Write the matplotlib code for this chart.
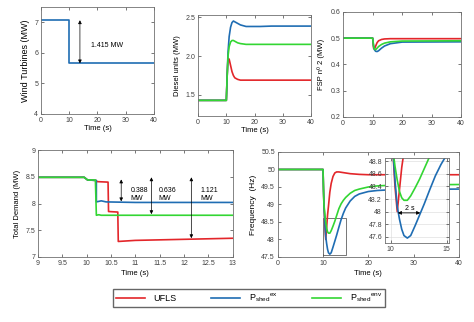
import numpy as np
import matplotlib.pyplot as plt
from matplotlib.patches import Rectangle

plt.rcParams['font.family'] = ['Liberation Sans', 'DejaVu Sans']
plt.rcParams['mathtext.fontset'] = 'custom'
plt.rcParams['mathtext.rm'] = 'Liberation Sans'

RED = '#e3262a'
BLUE = '#1f6db3'
GREEN = '#33d633'

# wind turbines
t_wind = [0, 10, 10, 40]
p_wind = [7.07, 7.07, 5.655, 5.655]

# diesel units
t_dsl = [0, 10, 10.3, 10.6, 11, 11.5, 12, 12.5, 13, 14, 15, 17, 19, 22, 26, 30, 35, 40]
dsl_ufls = [1.43, 1.43, 1.75, 1.97, 1.96, 1.88, 1.80, 1.75, 1.72, 1.70, 1.69, 1.69, 1.69, 1.69, 1.69, 1.69, 1.69, 1.69]
dsl_ex = [1.43, 1.43, 1.75, 2.05, 2.25, 2.37, 2.43, 2.45, 2.44, 2.42, 2.40, 2.38, 2.38, 2.38, 2.385, 2.385, 2.385, 2.385]
dsl_env = [1.43, 1.43, 1.75, 2.0, 2.12, 2.18, 2.2, 2.2, 2.19, 2.17, 2.16, 2.15, 2.15, 2.15, 2.15, 2.15, 2.15, 2.15]

# FSP n2
t_fsp = [0, 10, 10.3, 10.6, 11, 11.5, 12, 13, 14, 16, 20, 40]
fsp_ufls = [0.5, 0.5, 0.462, 0.458, 0.47, 0.483, 0.49, 0.495, 0.497, 0.498, 0.498, 0.498]
fsp_ex = [0.5, 0.5, 0.47, 0.456, 0.45, 0.449, 0.452, 0.462, 0.47, 0.479, 0.485, 0.486]
fsp_env = [0.5, 0.5, 0.47, 0.458, 0.456, 0.462, 0.468, 0.476, 0.481, 0.486, 0.489, 0.49]

# total demand
t_dem_ufls = [9, 9.95, 10.02, 10.06, 10.2, 10.2, 10.44, 10.45, 10.64, 10.65, 11, 13]
dem_ufls = [8.49, 8.49, 8.44, 8.44, 8.43, 8.41, 8.40, 7.85, 7.84, 7.29, 7.31, 7.35]
t_dem_ex = [9, 9.95, 10.02, 10.06, 10.2, 10.2, 10.3, 10.4, 11, 13]
dem_ex = [8.49, 8.49, 8.44, 8.44, 8.43, 8.03, 8.05, 8.03, 8.02, 8.02]
t_dem_env = [9, 9.95, 10.02, 10.06, 10.18, 10.2, 10.25, 10.3, 10.5, 13]
dem_env = [8.49, 8.49, 8.44, 8.44, 8.44, 7.78, 7.79, 7.78, 7.78, 7.78]

# frequency
t_f = [0, 10, 10.1, 10.2, 10.4, 10.6, 10.8, 11.0, 11.2, 11.5, 11.8, 12.2, 12.6, 13.0, 13.5,
       14.0, 14.5, 15, 16, 17, 18, 20, 22, 25, 30, 40]
f_ufls = [50, 50, 49.45, 49.0, 48.4, 48.0, 48.35, 48.7, 48.95, 49.35, 49.6, 49.8, 49.9, 49.93, 49.93,
          49.92, 49.91, 49.9, 49.88, 49.87, 49.86, 49.85, 49.85, 49.85, 49.85, 49.85]
f_env = [50, 50, 49.45, 49.0, 48.72, 48.5, 48.32, 48.22, 48.18, 48.18, 48.25, 48.38, 48.52, 48.68, 48.88,
         49.02, 49.12, 49.2, 49.32, 49.4, 49.44, 49.5, 49.53, 49.55, 49.56, 49.57]
f_ex = [50, 50, 49.45, 49.0, 48.5, 48.08, 47.88, 47.72, 47.62, 47.58, 47.62, 47.78, 47.95, 48.12, 48.35,
        48.57, 48.75, 48.9, 49.1, 49.23, 49.3, 49.37, 49.4, 49.42, 49.43, 49.44]

labels = ['UFLS', r'$\mathregular{P_{shed}{}^{ex}}$', r'$\mathregular{P_{shed}{}^{env}}$']

fig = plt.figure(figsize=(4.74, 3.22), dpi=100)


def style(ax, fs=5):
    ax.tick_params(direction='in', length=2, width=0.5, labelsize=fs, pad=2,
                   top=True, right=True, colors='#404040')
    for s in ax.spines.values():
        s.set_color('#707070')
        s.set_linewidth(0.6)


lw = 1.2

ax1 = fig.add_axes([0.0865, 0.646, 0.238, 0.332])
ax1.plot(t_wind, p_wind, color=BLUE, lw=lw)
ax1.set_xlim(0, 40)
ax1.set_ylim(4, 7.5)
ax1.set_xticks([0, 10, 20, 30, 40])
ax1.set_yticks([4, 5, 6, 7])
ax1.set_xlabel('Time (s)', fontsize=5.5, labelpad=1)
ax1.set_ylabel('Wind Turbines (MW)', fontsize=6.5, labelpad=3)
ax1.annotate('', xy=(13.8, 5.655), xytext=(13.8, 7.07),
             arrowprops=dict(arrowstyle='<|-|>', color='black', lw=0.5,
                             mutation_scale=5, shrinkA=0, shrinkB=0))
ax1.text(17.6, 6.25, '1.415 MW', fontsize=5, va='center')
style(ax1)

ax2 = fig.add_axes([0.418, 0.640, 0.238, 0.314])
ax2.plot(t_dsl, dsl_ufls, color=RED, lw=lw)
ax2.plot(t_dsl, dsl_ex, color=BLUE, lw=lw)
ax2.plot(t_dsl, dsl_env, color=GREEN, lw=lw)
ax2.set_xlim(0, 40)
ax2.set_ylim(1.23, 2.53)
ax2.set_xticks([0, 10, 20, 30, 40])
ax2.set_yticks([1.5, 2, 2.5])
ax2.set_xlabel('Time (s)', fontsize=5.5, labelpad=1)
ax2.set_ylabel('Diesel units (MW)', fontsize=5.5, labelpad=3)
style(ax2)

ax3 = fig.add_axes([0.724, 0.637, 0.249, 0.326])
ax3.plot(t_fsp, fsp_ufls, color=RED, lw=lw)
ax3.plot(t_fsp, fsp_ex, color=BLUE, lw=lw)
ax3.plot(t_fsp, fsp_env, color=GREEN, lw=lw)
ax3.set_xlim(0, 40)
ax3.set_ylim(0.2, 0.6)
ax3.set_xticks([0, 10, 20, 30, 40])
ax3.set_yticks([0.2, 0.3, 0.4, 0.5, 0.6])
ax3.set_ylabel('FSP nº 2 (MW)', fontsize=5.5, labelpad=4)
style(ax3)

ax4 = fig.add_axes([0.080, 0.202, 0.411, 0.332])
ax4.plot(t_dem_ufls, dem_ufls, color=RED, lw=lw)
ax4.plot(t_dem_ex, dem_ex, color=BLUE, lw=lw)
ax4.plot(t_dem_env, dem_env, color=GREEN, lw=lw)
ax4.set_xlim(9, 13)
ax4.set_ylim(7, 9)
ax4.set_xticks([9, 9.5, 10, 10.5, 11, 11.5, 12, 12.5, 13])
ax4.set_xticklabels(['9', '9.5', '10', '10.5', '11', '11.5', '12', '12.5', '13'])
ax4.set_yticks([7, 7.5, 8, 8.5, 9])
ax4.set_yticklabels(['7', '7.5', '8', '8.5', '9'])
ax4.set_xlabel('Time (s)', fontsize=5.5, labelpad=2)
ax4.set_ylabel('Total Demand (MW)', fontsize=5.5, labelpad=3)
arrows = [(10.71, 8.45, 8.04, 10.9, '0.388\nMW'),
          (11.33, 8.49, 7.80, 11.48, '0.636\nMW'),
          (12.15, 8.49, 7.35, 12.33, '1.121\nMW')]
for xa, y0, y1, xt, txt in arrows:
    ax4.annotate('', xy=(xa, y1), xytext=(xa, y0),
                 arrowprops=dict(arrowstyle='<|-|>', color='black', lw=0.5,
                                 mutation_scale=5, shrinkA=0, shrinkB=0))
    ax4.text(xt, 8.17, txt, fontsize=5, va='center', linespacing=1.1)
style(ax4)

ax5 = fig.add_axes([0.586, 0.202, 0.382, 0.326])
ax5.plot(t_f, f_ufls, color=RED, lw=lw)
ax5.plot(t_f, f_ex, color=BLUE, lw=lw)
ax5.plot(t_f, f_env, color=GREEN, lw=lw)
ax5.set_xlim(0, 40)
ax5.set_ylim(47.5, 50.5)
ax5.set_xticks([0, 10, 20, 30, 40])
ax5.set_yticks([47.5, 48, 48.5, 49, 49.5, 50, 50.5])
ax5.set_yticklabels(['47.5', '48', '48.5', '49', '49.5', '50', '50.5'])
ax5.set_xlabel('Time (s)', fontsize=5.5, labelpad=2)
ax5.set_ylabel('Frequency  (Hz)', fontsize=6, labelpad=3)
ax5.add_patch(Rectangle((10, 47.55), 5, 1.05, fill=False, ec='#606060', lw=0.6))
style(ax5)

ax6 = fig.add_axes([0.812, 0.245, 0.135, 0.264])
ax6.plot(t_f, f_ufls, color=RED, lw=lw)
ax6.plot(t_f, f_ex, color=BLUE, lw=lw)
ax6.plot(t_f, f_env, color=GREEN, lw=lw)
ax6.set_xlim(9.5, 15.2)
ax6.set_ylim(47.5, 48.85)
ax6.set_xticks([10, 15])
ax6.set_yticks([47.6, 47.8, 48, 48.2, 48.4, 48.6, 48.8])
ax6.set_yticklabels(['47.6', '47.8', '48', '48.2', '48.4', '48.6', '48.8'])
ax6.grid(True, color='#d8d8d8', lw=0.4)
ax6.annotate('', xy=(12.65, 47.98), xytext=(10.65, 47.98),
             arrowprops=dict(arrowstyle='<|-|>', color='black', lw=0.6,
                             mutation_scale=5, shrinkA=0, shrinkB=0))
ax6.text(11.7, 47.99, '2 s', fontsize=5, ha='center', va='bottom')
style(ax6)

handles = [plt.Line2D([], [], color=c, lw=lw) for c in (RED, BLUE, GREEN)]
fig.legend(handles, labels, loc='center', bbox_to_anchor=(249 / 474, 1 - 298 / 322),
           ncol=3, fontsize=6.5, frameon=True, fancybox=False, edgecolor='#404040',
           handlelength=3.2, columnspacing=3.8, borderpad=0.35, handletextpad=1.0)

fig.savefig('out.png', dpi=100)
